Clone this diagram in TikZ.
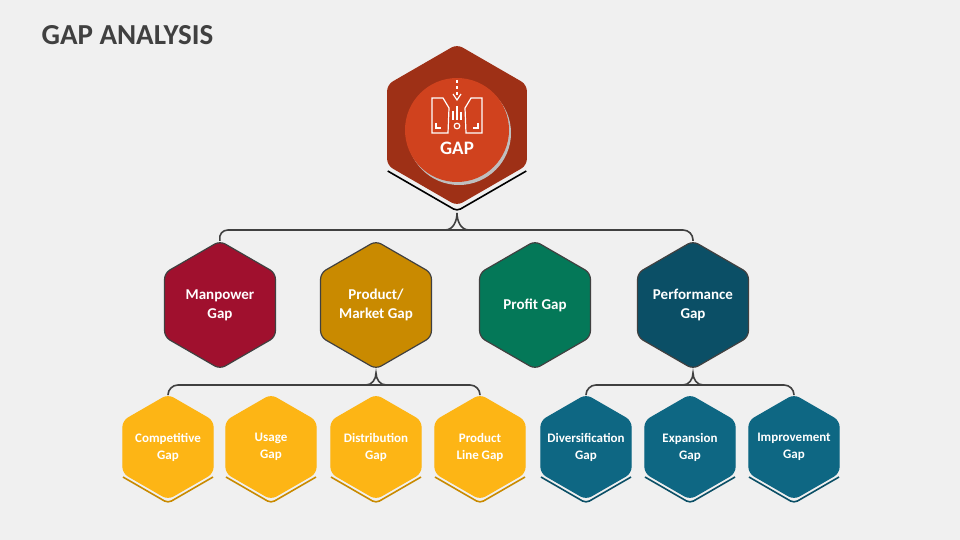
\documentclass[tikz,border=0pt]{standalone}
\usepackage{fontspec}
\setmainfont{Carlito}
\begin{document}
\begin{tikzpicture}[x=1pt,y=-1pt,
  lbl/.style={text=white,font=\bfseries,align=center},
  conn/.style={draw=black!75,line width=1.6pt,rounded corners=10pt}]
\definecolor{yel}{HTML}{FDB515}\definecolor{teal2}{HTML}{0E6783}
\definecolor{topc}{HTML}{9E3016}\definecolor{circc}{HTML}{D0421E}
\definecolor{manc}{HTML}{A0102E}\definecolor{prodc}{HTML}{C98A00}
\definecolor{profc}{HTML}{047858}\definecolor{perfc}{HTML}{0B4F66}
\useasboundingbox (0,0) rectangle (960,540);
\fill[gray!12] (0,0) rectangle (960,540);
\node[anchor=west,font=\bfseries\fontsize{29}{32}\selectfont,text=black!75] (title) at (38,35) {GAP ANALYSIS};
\newcommand\myhex[8]{%
  \filldraw[fill=#5,draw=#6,line width=1.2pt,rounded corners=6pt]
   (#2,#3-#4) -- ({#2+0.866*#4},{#3-0.5*#4}) -- ({#2+0.866*#4},{#3+0.5*#4}) -- (#2,#3+#4) -- ({#2-0.866*#4},{#3+0.5*#4}) -- ({#2-0.866*#4},{#3-0.5*#4}) -- cycle;
  \node[lbl,font=#8,minimum width={1.6*#4},minimum height={2*#4}] (#1) at (#2,#3) {#7};}
\newcommand\underv[5]{% cx, cy, R, color, offset
  \draw[#4,line width=1.6pt,rounded corners=4pt] ({#1-0.866*#3},{#2+0.5*#3+#5}) -- (#1,{#2+#3+#5}) -- ({#1+0.866*#3},{#2+0.5*#3+#5});}
\def\midf{\bfseries\fontsize{15}{19}\selectfont}
\def\lowf{\bfseries\fontsize{13}{17}\selectfont}
% top
\underv{457}{125}{80}{black}{6}
\myhex{gap}{457}{125}{80}{topc}{topc}{}{\midf}
\fill[black!25] (459,133) circle (52);
\node[circle,fill=circc,minimum size=104pt,inner sep=0] (gapc) at (457,130) {};
\node[lbl,font=\bfseries\fontsize{19}{22}\selectfont] (gapt) at (457,148) {GAP};
\begin{scope}[draw=white,line width=1.2pt]
\draw[dashed] (457,80) -- (457,96);
\draw (453,94) -- (457,100) -- (461,94);
\draw (432,98) -- (443,98) -- (449,108) -- (448,133) -- (432,133) -- cycle;
\draw (482,98) -- (471,98) -- (465,108) -- (466,133) -- (482,133) -- cycle;
\draw (436,123) -- (436,128) -- (441,128);
\draw (478,123) -- (478,128) -- (473,128);
\draw (457,126) circle (2.8);
\draw (453,111)--(453,120) (457,106)--(457,120) (461,112)--(461,120);
\end{scope}
% middle
\foreach \cx/\col/\nm/\tx in {220/manc/mp/{Manpower\\Gap},376/prodc/pm/{Product/\\Market Gap},535/profc/pg/{Profit Gap},693/perfc/pf/{Performance\\Gap}}{
  \myhex{\nm}{\cx}{305}{64}{\col}{black!75}{\tx}{\midf}}
% bottom
\foreach \cx/\nm/\tx in {168/b1/{Competitive\\Gap},271/b2/{Usage\\Gap},376/b3/{Distribution\\Gap},480/b4/{Product\\Line Gap}}{
  \underv{\cx}{447}{52}{prodc}{4}
  \myhex{\nm}{\cx}{447}{52}{yel}{yel}{\tx}{\lowf}}
\foreach \cx/\nm/\tx in {586/b5/{Diversification\\Gap},690/b6/{Expansion\\Gap},794/b7/{Improvement\\Gap}}{
  \underv{\cx}{447}{52}{perfc}{4}
  \myhex{\nm}{\cx}{447}{52}{teal2}{teal2}{\tx}{\lowf}}
% connectors
\coordinate (t0) at (457,213);
\draw[conn] (mp.north) -- (218,230) -- (693,230) -- (pf.north);
\draw[black!75,line width=1.6pt] (445,230) to[out=0,in=270] (t0) to[out=270,in=180] (469,230);
\draw[conn] (b1.north) -- (168,385) -- (480,385) -- (b4.north);
\draw[black!75,line width=1.6pt] (366,385) to[out=0,in=270] (376,373) to[out=270,in=180] (386,385);
\draw[conn] (b5.north) -- (586,385) -- (794,385) -- (b7.north);
\draw[black!75,line width=1.6pt] (683,385) to[out=0,in=270] (693,373) to[out=270,in=180] (703,385);
\end{tikzpicture}
\end{document}
